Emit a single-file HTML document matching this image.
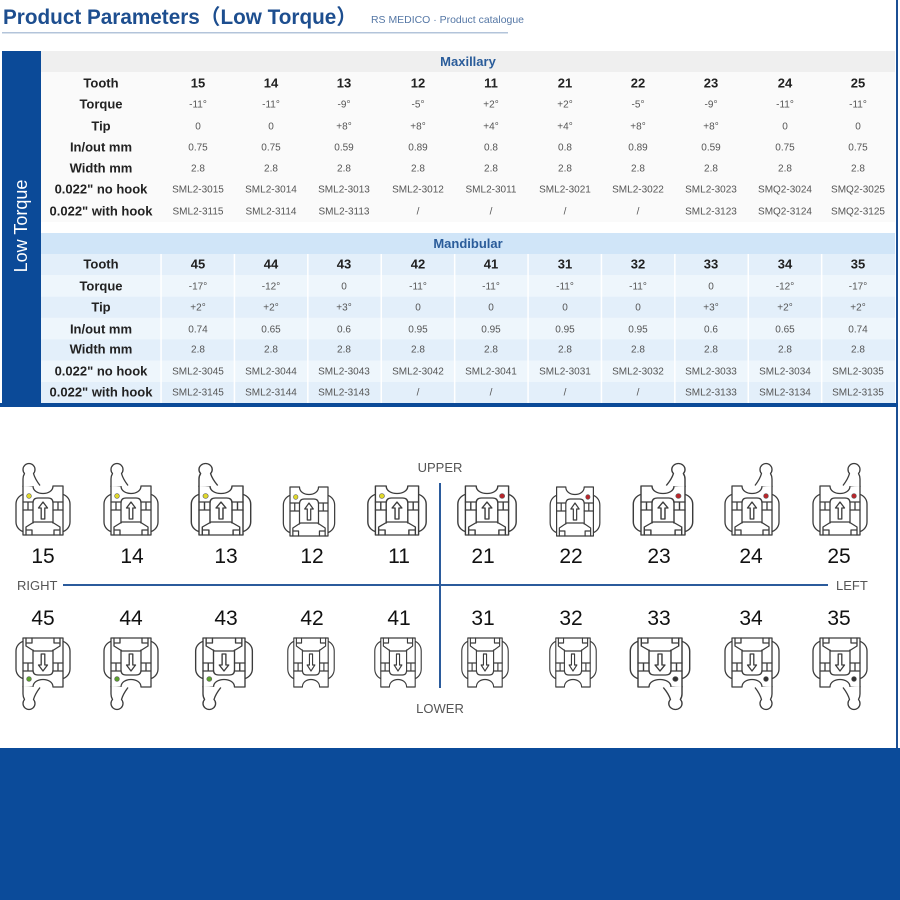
<!DOCTYPE html>
<html><head><meta charset="utf-8"><style>
html,body{margin:0;padding:0;background:#fff;}
svg{display:block;}
text{font-family:"Liberation Sans","Noto Sans CJK SC",sans-serif;}
.lb{font-size:13px;font-weight:bold;fill:#222;text-anchor:middle;}
.tn{font-size:13px;font-weight:bold;fill:#222;text-anchor:middle;}
.d{font-size:10px;fill:#555;text-anchor:middle;}
.n{font-size:21px;fill:#111;text-anchor:middle;}
.ax{font-size:13px;fill:#555;}
</style></head><body>
<svg width="900" height="900" viewBox="0 0 900 900" xmlns="http://www.w3.org/2000/svg">
<defs>
<g id="b" fill="#fff" stroke="#3c3c3c" stroke-width="1.3" stroke-linejoin="round" stroke-linecap="round">
 <rect x="-27" y="-16" width="54" height="38" rx="10"/>
 <path d="M-20,25 V-24 H-10 C-10,-14 10,-14 10,-24 H20 V25 Z"/>
 <path fill="none" d="M-20,-8 H-10 M10,-8 H20 M-20,0 H-10 M10,0 H20 M-15,-8 V0 M15,-8 V0"/>
 <path fill="none" d="M-10,13 V-7 Q-10,-12 -5,-12 H5 Q10,-12 10,-7 V13"/>
 <path d="M-1.8,9 V-2 H-4.5 L0,-8 L4.5,-2 H1.8 V9 Z"/>
 <path fill="none" d="M-17,25 V17 L-9,12 H9 L17,17 V25 M-17,20 H-11 V25 M17,20 H11 V25"/>
</g>
<path id="h" fill="#fff" stroke="#3c3c3c" stroke-width="1.3" stroke-linejoin="round" d="M-20,-23 V-31 Q-20,-34 -18.5,-36.5 A6,6 0 1 1 -9.5,-36.5 Q-8,-31 -3,-24.5"/>
</defs>

<!-- header -->
<text x="3" y="24" font-size="21" font-weight="bold" fill="#1d4e8f" textLength="354" lengthAdjust="spacingAndGlyphs">Product Parameters（Low Torque）</text>
<text x="371" y="23" font-size="10.5" fill="#5577a5" textLength="153" lengthAdjust="spacingAndGlyphs">RS MEDICO · Product catalogue</text>
<rect x="2" y="32" width="506" height="1.5" fill="#b3c4da"/>

<!-- right line -->
<rect x="896" y="0" width="2" height="748" fill="#1b4f94"/>

<!-- left bar -->
<rect x="2" y="51" width="39" height="352" fill="#0b4a98"/>
<text transform="translate(27,226) rotate(-90)" font-size="18" fill="#fff" text-anchor="middle">Low Torque</text>

<!-- Maxillary -->
<rect x="41" y="51" width="854" height="21" fill="#efefef"/>
<text x="468" y="66" font-size="13" font-weight="bold" fill="#2a5c9a" text-anchor="middle">Maxillary</text>
<rect x="41" y="72" width="854" height="150" fill="#fafafa"/>

<g class="lb">
<text class="lb" x="101" y="87.5">Tooth</text>
<text class="lb" x="101" y="108.5">Torque</text>
<text class="lb" x="101" y="130.5">Tip</text>
<text class="lb" x="101" y="151.5">In/out mm</text>
<text class="lb" x="101" y="172.5">Width mm</text>
<text class="lb" x="101" y="193.5">0.022" no hook</text>
<text class="lb" x="101" y="215.5">0.022" with hook</text>
</g>
<g>
<text class="tn" x="198" y="87.5">15</text><text class="tn" x="271" y="87.5">14</text><text class="tn" x="344" y="87.5">13</text><text class="tn" x="418" y="87.5">12</text><text class="tn" x="491" y="87.5">11</text><text class="tn" x="565" y="87.5">21</text><text class="tn" x="638" y="87.5">22</text><text class="tn" x="711" y="87.5">23</text><text class="tn" x="785" y="87.5">24</text><text class="tn" x="858" y="87.5">25</text>

<text class="d" x="198" y="107.5">-11°</text><text class="d" x="271" y="107.5">-11°</text><text class="d" x="344" y="107.5">-9°</text><text class="d" x="418" y="107.5">-5°</text><text class="d" x="491" y="107.5">+2°</text><text class="d" x="565" y="107.5">+2°</text><text class="d" x="638" y="107.5">-5°</text><text class="d" x="711" y="107.5">-9°</text><text class="d" x="785" y="107.5">-11°</text><text class="d" x="858" y="107.5">-11°</text>

<text class="d" x="198" y="129.5">0</text><text class="d" x="271" y="129.5">0</text><text class="d" x="344" y="129.5">+8°</text><text class="d" x="418" y="129.5">+8°</text><text class="d" x="491" y="129.5">+4°</text><text class="d" x="565" y="129.5">+4°</text><text class="d" x="638" y="129.5">+8°</text><text class="d" x="711" y="129.5">+8°</text><text class="d" x="785" y="129.5">0</text><text class="d" x="858" y="129.5">0</text>

<text class="d" x="198" y="150.5">0.75</text><text class="d" x="271" y="150.5">0.75</text><text class="d" x="344" y="150.5">0.59</text><text class="d" x="418" y="150.5">0.89</text><text class="d" x="491" y="150.5">0.8</text><text class="d" x="565" y="150.5">0.8</text><text class="d" x="638" y="150.5">0.89</text><text class="d" x="711" y="150.5">0.59</text><text class="d" x="785" y="150.5">0.75</text><text class="d" x="858" y="150.5">0.75</text>

<text class="d" x="198" y="171.5">2.8</text><text class="d" x="271" y="171.5">2.8</text><text class="d" x="344" y="171.5">2.8</text><text class="d" x="418" y="171.5">2.8</text><text class="d" x="491" y="171.5">2.8</text><text class="d" x="565" y="171.5">2.8</text><text class="d" x="638" y="171.5">2.8</text><text class="d" x="711" y="171.5">2.8</text><text class="d" x="785" y="171.5">2.8</text><text class="d" x="858" y="171.5">2.8</text>

<text class="d" x="198" y="192.5">SML2-3015</text><text class="d" x="271" y="192.5">SML2-3014</text><text class="d" x="344" y="192.5">SML2-3013</text><text class="d" x="418" y="192.5">SML2-3012</text><text class="d" x="491" y="192.5">SML2-3011</text><text class="d" x="565" y="192.5">SML2-3021</text><text class="d" x="638" y="192.5">SML2-3022</text><text class="d" x="711" y="192.5">SML2-3023</text><text class="d" x="785" y="192.5">SMQ2-3024</text><text class="d" x="858" y="192.5">SMQ2-3025</text>

<text class="d" x="198" y="214.5">SML2-3115</text><text class="d" x="271" y="214.5">SML2-3114</text><text class="d" x="344" y="214.5">SML2-3113</text><text class="d" x="418" y="214.5">/</text><text class="d" x="491" y="214.5">/</text><text class="d" x="565" y="214.5">/</text><text class="d" x="638" y="214.5">/</text><text class="d" x="711" y="214.5">SML2-3123</text><text class="d" x="785" y="214.5">SMQ2-3124</text><text class="d" x="858" y="214.5">SMQ2-3125</text>
</g>

<!-- Mandibular -->
<rect x="41" y="233" width="854" height="21" fill="#d0e5f8"/>
<text x="468" y="248" font-size="13" font-weight="bold" fill="#2a5c9a" text-anchor="middle">Mandibular</text>
<rect x="41" y="254" width="854" height="21.3" fill="#e3effa"/>
<rect x="41" y="275.3" width="854" height="21.3" fill="#eef6fc"/>
<rect x="41" y="296.6" width="854" height="21.3" fill="#e3effa"/>
<rect x="41" y="317.9" width="854" height="21.3" fill="#eef6fc"/>
<rect x="41" y="339.2" width="854" height="21.3" fill="#e3effa"/>
<rect x="41" y="360.5" width="854" height="21.3" fill="#eef6fc"/>
<rect x="41" y="381.8" width="854" height="21.2" fill="#e3effa"/>
<g fill="#fff">
<rect x="160.3" y="254" width="1.5" height="149"/><rect x="233.7" y="254" width="1.5" height="149"/><rect x="307.1" y="254" width="1.5" height="149"/><rect x="380.5" y="254" width="1.5" height="149"/><rect x="453.9" y="254" width="1.5" height="149"/><rect x="527.3" y="254" width="1.5" height="149"/><rect x="600.7" y="254" width="1.5" height="149"/><rect x="674.1" y="254" width="1.5" height="149"/><rect x="747.5" y="254" width="1.5" height="149"/><rect x="820.9" y="254" width="1.5" height="149"/>
</g>

<text class="lb" x="101" y="268.5">Tooth</text>
<text class="lb" x="101" y="290.5">Torque</text>
<text class="lb" x="101" y="311.5">Tip</text>
<text class="lb" x="101" y="333.5">In/out mm</text>
<text class="lb" x="101" y="353.5">Width mm</text>
<text class="lb" x="101" y="375.5">0.022" no hook</text>
<text class="lb" x="101" y="396.5">0.022" with hook</text>

<text class="tn" x="198" y="268.5">45</text><text class="tn" x="271" y="268.5">44</text><text class="tn" x="344" y="268.5">43</text><text class="tn" x="418" y="268.5">42</text><text class="tn" x="491" y="268.5">41</text><text class="tn" x="565" y="268.5">31</text><text class="tn" x="638" y="268.5">32</text><text class="tn" x="711" y="268.5">33</text><text class="tn" x="785" y="268.5">34</text><text class="tn" x="858" y="268.5">35</text>

<text class="d" x="198" y="289.5">-17°</text><text class="d" x="271" y="289.5">-12°</text><text class="d" x="344" y="289.5">0</text><text class="d" x="418" y="289.5">-11°</text><text class="d" x="491" y="289.5">-11°</text><text class="d" x="565" y="289.5">-11°</text><text class="d" x="638" y="289.5">-11°</text><text class="d" x="711" y="289.5">0</text><text class="d" x="785" y="289.5">-12°</text><text class="d" x="858" y="289.5">-17°</text>

<text class="d" x="198" y="310.5">+2°</text><text class="d" x="271" y="310.5">+2°</text><text class="d" x="344" y="310.5">+3°</text><text class="d" x="418" y="310.5">0</text><text class="d" x="491" y="310.5">0</text><text class="d" x="565" y="310.5">0</text><text class="d" x="638" y="310.5">0</text><text class="d" x="711" y="310.5">+3°</text><text class="d" x="785" y="310.5">+2°</text><text class="d" x="858" y="310.5">+2°</text>

<text class="d" x="198" y="332.5">0.74</text><text class="d" x="271" y="332.5">0.65</text><text class="d" x="344" y="332.5">0.6</text><text class="d" x="418" y="332.5">0.95</text><text class="d" x="491" y="332.5">0.95</text><text class="d" x="565" y="332.5">0.95</text><text class="d" x="638" y="332.5">0.95</text><text class="d" x="711" y="332.5">0.6</text><text class="d" x="785" y="332.5">0.65</text><text class="d" x="858" y="332.5">0.74</text>

<text class="d" x="198" y="352.5">2.8</text><text class="d" x="271" y="352.5">2.8</text><text class="d" x="344" y="352.5">2.8</text><text class="d" x="418" y="352.5">2.8</text><text class="d" x="491" y="352.5">2.8</text><text class="d" x="565" y="352.5">2.8</text><text class="d" x="638" y="352.5">2.8</text><text class="d" x="711" y="352.5">2.8</text><text class="d" x="785" y="352.5">2.8</text><text class="d" x="858" y="352.5">2.8</text>

<text class="d" x="198" y="374.5">SML2-3045</text><text class="d" x="271" y="374.5">SML2-3044</text><text class="d" x="344" y="374.5">SML2-3043</text><text class="d" x="418" y="374.5">SML2-3042</text><text class="d" x="491" y="374.5">SML2-3041</text><text class="d" x="565" y="374.5">SML2-3031</text><text class="d" x="638" y="374.5">SML2-3032</text><text class="d" x="711" y="374.5">SML2-3033</text><text class="d" x="785" y="374.5">SML2-3034</text><text class="d" x="858" y="374.5">SML2-3035</text>

<text class="d" x="198" y="395.5">SML2-3145</text><text class="d" x="271" y="395.5">SML2-3144</text><text class="d" x="344" y="395.5">SML2-3143</text><text class="d" x="418" y="395.5">/</text><text class="d" x="491" y="395.5">/</text><text class="d" x="565" y="395.5">/</text><text class="d" x="638" y="395.5">/</text><text class="d" x="711" y="395.5">SML2-3133</text><text class="d" x="785" y="395.5">SML2-3134</text><text class="d" x="858" y="395.5">SML2-3135</text>

<!-- bottom table line -->
<rect x="0" y="403" width="898" height="4" fill="#0b4a98"/>

<!-- bracket diagram -->
<text class="ax" x="440" y="472" font-size="12.5" text-anchor="middle">UPPER</text>
<text class="ax" x="440" y="713" font-size="12.5" text-anchor="middle">LOWER</text>
<text class="ax" x="17" y="590">RIGHT</text>
<text class="ax" x="836" y="590">LEFT</text>
<rect x="63" y="584" width="765" height="2" fill="#2b5b9c"/>
<rect x="439" y="483" width="2" height="205" fill="#2b5b9c"/>

<!-- upper brackets -->
<g transform="translate(43,510)"><use href="#b"/><use href="#h"/><circle cx="-14" cy="-14" r="2.4" fill="#e0d82a" stroke="#666" stroke-width=".6"/></g>
<g transform="translate(131,510)"><use href="#b"/><use href="#h"/><circle cx="-14" cy="-14" r="2.4" fill="#e0d82a" stroke="#666" stroke-width=".6"/></g>
<g transform="translate(221,510) scale(1.1,1)"><use href="#b"/><use href="#h"/><circle cx="-14" cy="-14" r="2.4" fill="#e0d82a" stroke="#666" stroke-width=".6"/></g>
<g transform="translate(309,511) scale(0.95,1)"><use href="#b"/><circle cx="-14" cy="-14" r="2.4" fill="#e0d82a" stroke="#666" stroke-width=".6"/></g>
<g transform="translate(397,510) scale(1.08,1)"><use href="#b"/><circle cx="-14" cy="-14" r="2.4" fill="#e0d82a" stroke="#666" stroke-width=".6"/></g>
<g transform="translate(487,510) scale(-1.08,1)"><use href="#b"/><circle cx="-14" cy="-14" r="2.4" fill="#b8262b" stroke="#666" stroke-width=".6"/></g>
<g transform="translate(575,511) scale(-0.92,1)"><use href="#b"/><circle cx="-14" cy="-14" r="2.4" fill="#b8262b" stroke="#666" stroke-width=".6"/></g>
<g transform="translate(663,510) scale(-1.1,1)"><use href="#b"/><use href="#h"/><circle cx="-14" cy="-14" r="2.4" fill="#b8262b" stroke="#666" stroke-width=".6"/></g>
<g transform="translate(752,510) scale(-1,1)"><use href="#b"/><use href="#h"/><circle cx="-14" cy="-14" r="2.4" fill="#b8262b" stroke="#666" stroke-width=".6"/></g>
<g transform="translate(840,510) scale(-1,1)"><use href="#b"/><use href="#h"/><circle cx="-14" cy="-14" r="2.4" fill="#b8262b" stroke="#666" stroke-width=".6"/></g>

<text class="n" x="43" y="563">15</text><text class="n" x="132" y="563">14</text><text class="n" x="226" y="563">13</text><text class="n" x="312" y="563">12</text><text class="n" x="399" y="563">11</text><text class="n" x="483" y="563">21</text><text class="n" x="571" y="563">22</text><text class="n" x="659" y="563">23</text><text class="n" x="751" y="563">24</text><text class="n" x="839" y="563">25</text>

<text class="n" x="43" y="625">45</text><text class="n" x="131" y="625">44</text><text class="n" x="226" y="625">43</text><text class="n" x="312" y="625">42</text><text class="n" x="399" y="625">41</text><text class="n" x="483" y="625">31</text><text class="n" x="571" y="625">32</text><text class="n" x="659" y="625">33</text><text class="n" x="751" y="625">34</text><text class="n" x="839" y="625">35</text>

<!-- lower brackets -->
<g transform="translate(43,663) scale(1,-1)"><use href="#b"/><use href="#h"/><circle cx="-14" cy="-16" r="2.4" fill="#5aa02c" stroke="#666" stroke-width=".6"/></g>
<g transform="translate(131,663) scale(1,-1)"><use href="#b"/><use href="#h"/><circle cx="-14" cy="-16" r="2.4" fill="#5aa02c" stroke="#666" stroke-width=".6"/></g>
<g transform="translate(224,663) scale(1.05,-1)"><use href="#b"/><use href="#h"/><circle cx="-14" cy="-16" r="2.4" fill="#5aa02c" stroke="#666" stroke-width=".6"/></g>
<g transform="translate(311,663) scale(0.86,-1)"><use href="#b"/></g>
<g transform="translate(398,663) scale(0.86,-1)"><use href="#b"/></g>
<g transform="translate(485,663) scale(-0.86,-1)"><use href="#b"/></g>
<g transform="translate(573,663) scale(-0.86,-1)"><use href="#b"/></g>
<g transform="translate(660,663) scale(-1.1,-1)"><use href="#b"/><use href="#h"/><circle cx="-14" cy="-16" r="2.4" fill="#333" stroke="#555" stroke-width=".6"/></g>
<g transform="translate(752,663) scale(-1,-1)"><use href="#b"/><use href="#h"/><circle cx="-14" cy="-16" r="2.4" fill="#333" stroke="#555" stroke-width=".6"/></g>
<g transform="translate(840,663) scale(-1,-1)"><use href="#b"/><use href="#h"/><circle cx="-14" cy="-16" r="2.4" fill="#333" stroke="#555" stroke-width=".6"/></g>

<!-- bottom blue band -->
<rect x="0" y="748" width="900" height="152" fill="#0b4b9a"/>
</svg>
</body></html>
